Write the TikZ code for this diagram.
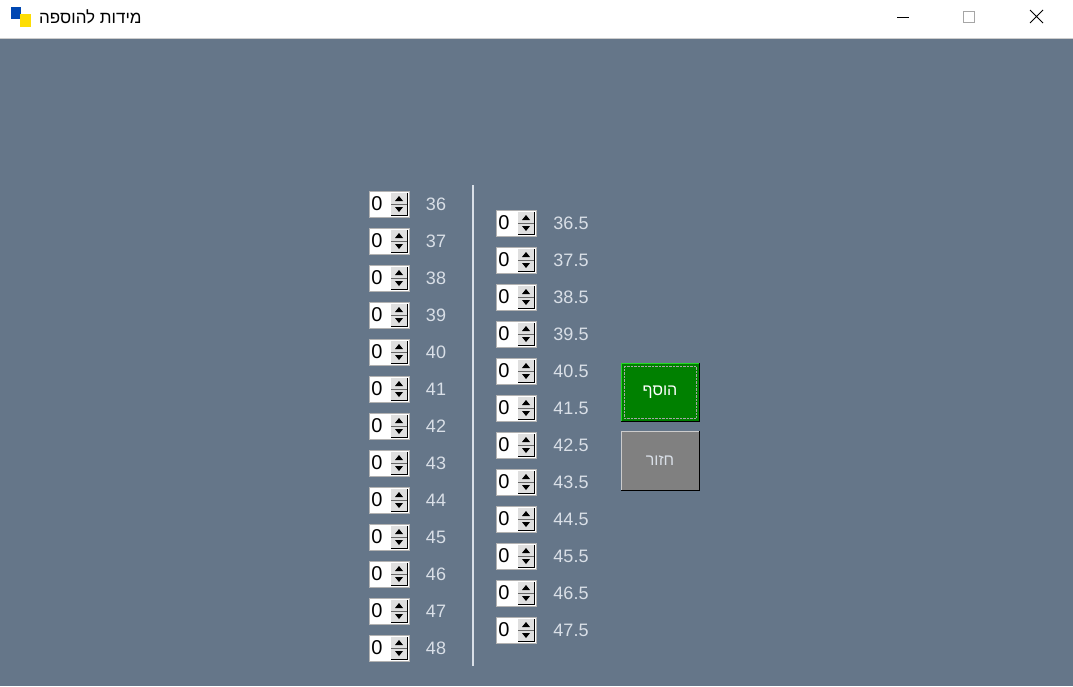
\documentclass[tikz,border=0pt]{standalone}
\usepackage{fontspec}
\setmainfont{Liberation Sans}
\newfontfamily\hebfont[Script=Hebrew]{Liberation Sans}
\TeXXeTstate=1
\definecolor{bg}{HTML}{657689}
\definecolor{lbl}{HTML}{D9DFE7}
\definecolor{btngreen}{HTML}{008000}
\definecolor{btngrey}{HTML}{808080}
\tikzset{
  lab/.style={text=lbl,font=\fontsize{18}{20}\selectfont,anchor=center,inner sep=0},
  spinent/.style={fill=white,draw=gray!60,line width=0.8pt},
}
\newcommand{\spinbox}[3]{% name, x-left, y-center
  \draw[spinent] (#2,#3-13) rectangle (#2+40,#3+13);
  \fill[gray!25] (#2+22,#3-11) rectangle (#2+38,#3+11);
  \draw[gray!80!black] (#2+22,#3) -- (#2+38,#3);
  \draw[black,line width=0.6pt] (#2+22,#3+11) -- (#2+38,#3+11) -- (#2+38,#3-11);
  \fill[black] (#2+26,#3-3) -- (#2+34,#3-3) -- (#2+30,#3-8) -- cycle;
  \fill[black] (#2+26,#3+3) -- (#2+34,#3+3) -- (#2+30,#3+8) -- cycle;
  \node[inner sep=0,font=\fontsize{20}{22}\selectfont] (#1) at (#2+8,#3) {0};
}
\begin{document}
\begin{tikzpicture}[x=1pt,y=-1pt]
\useasboundingbox (0,0) rectangle (1073,686);
\fill[bg] (0,0) rectangle (1073,686);
\fill[white] (0,0) rectangle (1073,38);
\draw[gray!40] (0,38.5) -- (1073,38.5);
% title icon
\fill[blue!60!cyan!70!black] (11,7) rectangle (21,19);
\fill[yellow!80!orange] (20,14) rectangle (31,27);
\node[anchor=west,inner sep=0,font=\fontsize{17}{19}\selectfont\hebfont] (title) at (39,17) {\beginR מידות להוספה\endR};
% window controls
\draw[black,line width=0.8pt] (897,17) -- (909,17);
\draw[gray!70] (963,11) rectangle (974,22);
\draw[black,line width=0.8pt] (1030,10) -- (1043,23) (1043,10) -- (1030,23);
% divider
\draw[lbl,line width=1.5pt] (473,185) -- (473,666);
% left column
\foreach \i/\t in {0/36,1/37,2/38,3/39,4/40,5/41,6/42,7/43,8/44,9/45,10/46,11/47,12/48}{
  \pgfmathsetmacro{\yy}{204+37*\i}
  \spinbox{sl\i}{369}{\yy}
  \node[lab] (ll\i) at (436,\yy) {\t};
}
\foreach \i/\t in {0/36.5,1/37.5,2/38.5,3/39.5,4/40.5,5/41.5,6/42.5,7/43.5,8/44.5,9/45.5,10/46.5,11/47.5}{
  \pgfmathsetmacro{\yy}{223+37*\i}
  \spinbox{sr\i}{496}{\yy}
  \node[lab] (lr\i) at (571,\yy) {\t};
}
% buttons
\fill[btngreen] (621,363) rectangle (699,421);
\draw[black,line width=1pt] (621,421) -- (699,421) -- (699,363);
\draw[green!70!gray,line width=0.8pt] (621,421) -- (621,363) -- (699,363);
\draw[gray!70,densely dotted] (624,366) rectangle (696,418);
\node[text=white,font=\fontsize{16}{18}\selectfont\hebfont] (add) at (660,392) {\beginR הוסף\endR};
\fill[btngrey] (621,431) rectangle (699,490);
\draw[black,line width=1pt] (621,490) -- (699,490) -- (699,431);
\draw[gray!40,line width=0.8pt] (621,490) -- (621,431) -- (699,431);
\node[text=lbl,font=\fontsize{16}{18}\selectfont\hebfont] (back) at (660,461) {\beginR חזור\endR};
\end{tikzpicture}
\end{document}
